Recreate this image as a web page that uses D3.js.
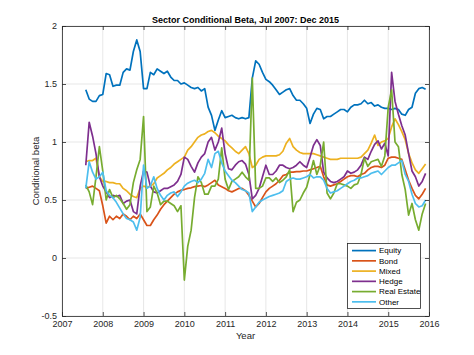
<!DOCTYPE html>
<html><head><meta charset="utf-8">
<script src="https://cdn.jsdelivr.net/npm/d3@7"></script>
<style>
body{margin:0;background:#fff}
svg{display:block;font-family:"Liberation Sans",Arial,Helvetica,sans-serif}
</style></head>
<body><svg id="c" width="474" height="355"></svg>
<script>
// Monthly observations Aug 2007 .. Dec 2015
const startYear = 2007, startMonth = 8;
const equity = [1.45,1.37,1.35,1.35,1.40,
 1.41,1.59,1.58,1.48,1.49,1.49,1.60,1.63,1.62,1.78,1.88,1.78,
 1.46,1.46,1.60,1.58,1.63,1.61,1.59,1.61,1.56,1.53,1.53,1.50,
 1.51,1.49,1.47,1.46,1.47,1.44,1.46,1.30,1.23,1.10,1.19,1.27,
 1.21,1.22,1.23,1.21,1.20,1.21,1.20,1.21,1.55,1.70,1.67,1.60,
 1.54,1.52,1.49,1.45,1.41,1.43,1.45,1.46,1.40,1.36,1.36,1.33,
 1.29,1.16,1.24,1.29,1.28,1.20,1.22,1.22,1.24,1.26,1.28,1.28,
 1.26,1.30,1.32,1.32,1.33,1.36,1.33,1.34,1.31,1.32,1.30,1.29,
 1.29,1.28,1.29,1.28,1.24,1.23,1.28,1.30,1.42,1.46,1.47,1.455];
const bond = [0.60,0.61,0.62,0.60,0.58,
 0.45,0.30,0.36,0.33,0.36,0.34,0.38,0.36,0.33,0.36,0.34,0.38,
 0.33,0.28,0.28,0.33,0.37,0.42,0.46,0.49,0.52,0.55,0.57,0.585,
 0.59,0.60,0.605,0.615,0.62,0.625,0.615,0.63,0.65,0.67,0.63,0.615,
 0.60,0.58,0.57,0.585,0.60,0.60,0.58,0.54,0.49,0.44,0.47,0.52,
 0.57,0.60,0.62,0.64,0.67,0.71,0.72,0.74,0.74,0.745,0.745,0.75,
 0.75,0.76,0.77,0.78,0.79,0.70,0.63,0.62,0.63,0.64,0.66,0.68,
 0.70,0.71,0.71,0.70,0.72,0.73,0.76,0.78,0.79,0.79,0.78,0.80,
 0.86,0.87,0.87,0.86,0.85,0.76,0.67,0.60,0.54,0.51,0.55,0.60];
const mixed = [0.83,0.84,0.84,0.86,0.70,
 0.66,0.66,0.65,0.65,0.64,0.64,0.60,0.58,0.55,0.53,0.52,0.60,
 0.62,0.61,0.62,0.64,0.69,0.71,0.73,0.76,0.78,0.81,0.83,0.85,
 0.87,0.93,0.96,1.00,1.04,1.06,1.07,1.09,1.10,1.08,1.05,1.03,
 1.01,0.975,0.95,0.92,0.90,0.93,0.96,0.90,0.78,0.80,0.85,0.87,
 0.88,0.88,0.88,0.88,0.89,0.92,0.99,1.03,0.96,0.93,0.91,0.90,
 0.90,0.90,0.90,0.89,0.88,0.87,0.86,0.85,0.85,0.85,0.86,0.86,
 0.86,0.86,0.86,0.86,0.87,0.90,0.93,0.99,1.06,0.97,1.00,1.01,
 1.03,1.13,1.20,1.15,1.09,1.02,0.90,0.82,0.76,0.73,0.77,0.81];
const hedge = [0.80,1.17,1.05,0.90,0.70,
 0.62,0.57,0.52,0.54,0.53,0.54,0.47,0.49,0.50,0.40,0.38,0.62,
 0.75,0.74,0.62,0.57,0.56,0.58,0.60,0.60,0.615,0.63,0.66,0.72,
 0.87,0.85,0.79,0.74,0.82,0.87,0.90,1.00,1.04,0.93,1.00,1.12,
 0.90,0.77,0.76,0.80,0.83,0.84,0.81,0.72,0.51,0.54,0.60,0.70,
 0.80,0.72,0.72,0.75,0.80,0.80,0.78,0.77,0.78,0.80,0.83,0.80,
 0.78,0.87,0.97,1.02,0.97,0.74,0.69,0.66,0.65,0.66,0.68,0.70,
 0.75,0.73,0.74,0.76,0.80,0.87,0.85,0.92,0.98,1.01,0.94,0.99,
 0.88,1.60,1.35,1.24,1.14,1.06,0.90,0.75,0.70,0.62,0.66,0.73];
const realEstate = [0.63,0.57,0.46,0.70,0.96,
 0.75,0.50,0.59,0.52,0.54,0.51,0.47,0.42,0.46,0.65,0.76,0.85,
 1.22,0.40,0.44,0.62,0.56,0.46,0.49,0.49,0.47,0.45,0.40,0.45,
 -0.19,0.10,0.24,0.52,0.70,0.65,0.55,0.55,0.62,0.62,0.68,0.95,
 0.68,0.59,0.66,0.68,0.70,0.74,0.70,0.67,1.55,0.60,0.60,0.62,
 0.69,0.69,0.66,0.69,0.65,0.67,0.70,0.76,0.40,0.48,0.50,0.56,
 0.61,0.72,0.84,0.72,0.80,1.00,0.56,0.51,0.56,0.64,0.64,0.63,
 0.62,0.60,0.63,0.64,0.72,0.86,0.79,0.83,0.84,0.85,0.79,0.88,
 1.30,1.45,1.00,0.96,0.72,0.59,0.37,0.47,0.33,0.24,0.38,0.47];
const other = [0.60,0.83,0.74,0.68,0.70,
 0.74,0.58,0.54,0.52,0.48,0.43,0.38,0.34,0.33,0.31,0.24,0.35,
 0.80,0.60,0.62,0.70,0.60,0.54,0.50,0.54,0.56,0.57,0.53,0.57,
 0.62,0.645,0.66,0.67,0.65,0.68,0.73,0.85,0.78,0.90,0.92,0.82,
 0.75,0.71,0.67,0.65,0.62,0.59,0.58,0.56,0.40,0.44,0.48,0.50,
 0.515,0.53,0.54,0.55,0.56,0.58,0.66,0.68,0.69,0.68,0.68,0.69,
 0.70,0.72,0.69,0.70,0.70,0.67,0.60,0.56,0.57,0.58,0.60,0.62,
 0.64,0.66,0.67,0.69,0.69,0.70,0.71,0.73,0.74,0.75,0.72,0.75,
 0.78,0.80,0.80,0.82,0.84,0.72,0.66,0.55,0.47,0.44,0.45,0.50];

const seriesNames = ["Equity","Bond","Mixed","Hedge","Real Estate","Other"];
const seriesValues = [equity,bond,mixed,hedge,realEstate,other];
const colors = ["#0072BD","#D95319","#EDB120","#7E2F8E","#77AC30","#4DBEEE"];
const xTicks = [2007,2008,2009,2010,2011,2012,2013,2014,2015,2016];
const yTicks = [-0.5,0,0.5,1,1.5,2];
const titleText = "Sector Conditional Beta, Jul 2007: Dec 2015";
const xLabel = "Year", yLabel = "Conditional beta";

const months = d3.range(equity.length).map(i => startYear + (startMonth - 1 + i) / 12);

const L = 62, R = 429, T = 26, B = 316;
const svg = d3.select("#c");
const x = d3.scaleLinear().domain([2007, 2016]).range([L, R]);
const y = d3.scaleLinear().domain([-0.5, 2]).range([B, T]);
const axisCol = "#262626";

// grid
const g = svg.append("g");
g.selectAll(".gx").data(xTicks).join("line")
  .attr("x1", d => x(d)).attr("x2", d => x(d)).attr("y1", T).attr("y2", B)
  .attr("stroke", "#dcdcdc").attr("stroke-width", 0.7);
g.selectAll(".gy").data(yTicks).join("line")
  .attr("x1", L).attr("x2", R).attr("y1", d => y(d)).attr("y2", d => y(d))
  .attr("stroke", "#dcdcdc").attr("stroke-width", 0.7);

// lines
const line = d3.line().x((d, i) => x(months[i])).y(d => y(d));
seriesValues.forEach((vals, k) => {
  svg.append("path").datum(vals).attr("d", line)
    .attr("fill", "none").attr("stroke", colors[k]).attr("stroke-width", 1.7)
    .attr("stroke-linejoin", "round");
});

// axes
const fmt = d => String(d);
const styleAxis = sel => {
  sel.selectAll(".domain").attr("stroke", axisCol).attr("stroke-width", 0.8);
  sel.selectAll(".tick line").attr("stroke", axisCol).attr("stroke-width", 0.8);
  sel.selectAll("text").attr("fill", axisCol).attr("font-size", "9px")
    .attr("font-family", '"Liberation Sans",Arial,sans-serif');
};
svg.append("g").attr("transform", `translate(0,${B})`)
  .call(d3.axisBottom(x).tickValues(xTicks).tickFormat(fmt).tickSizeInner(-4).tickSizeOuter(0).tickPadding(5))
  .call(styleAxis);
svg.append("g").attr("transform", `translate(${L},0)`)
  .call(d3.axisLeft(y).tickValues(yTicks).tickFormat(fmt).tickSizeInner(-4).tickSizeOuter(0).tickPadding(5))
  .call(styleAxis);
svg.append("g").attr("transform", `translate(0,${T})`)
  .call(d3.axisTop(x).tickValues(xTicks).tickFormat("").tickSizeInner(-4).tickSizeOuter(0))
  .call(styleAxis);
svg.append("g").attr("transform", `translate(${R},0)`)
  .call(d3.axisRight(y).tickValues(yTicks).tickFormat("").tickSizeInner(-4).tickSizeOuter(0))
  .call(styleAxis);

// title and labels
svg.append("text").attr("x", (L + R) / 2).attr("y", 23).attr("text-anchor", "middle")
  .attr("font-size", "9px").attr("font-weight", "bold").attr("fill", "#000").text(titleText);
svg.append("text").attr("x", (L + R) / 2).attr("y", 339).attr("text-anchor", "middle")
  .attr("font-size", "9.5px").attr("fill", axisCol).text(xLabel);
svg.append("text").attr("transform", `translate(38.5,${(T + B) / 2}) rotate(-90)`)
  .attr("text-anchor", "middle").attr("font-size", "9.5px").attr("fill", axisCol).text(yLabel);

// legend
const lg = svg.append("g");
lg.append("rect").attr("x", 347.5).attr("y", 243.5).attr("width", 73).attr("height", 65)
  .attr("fill", "#fff").attr("stroke", axisCol).attr("stroke-width", 0.8);
seriesNames.forEach((nm, k) => {
  const yy = 250.6 + k * 10.25;
  lg.append("line").attr("x1", 352).attr("x2", 376).attr("y1", yy).attr("y2", yy)
    .attr("stroke", colors[k]).attr("stroke-width", 1.7);
  lg.append("text").attr("x", 379).attr("y", yy).attr("dy", "0.35em")
    .attr("font-size", "8px").attr("fill", "#000").text(nm);
});
</script></body></html>
